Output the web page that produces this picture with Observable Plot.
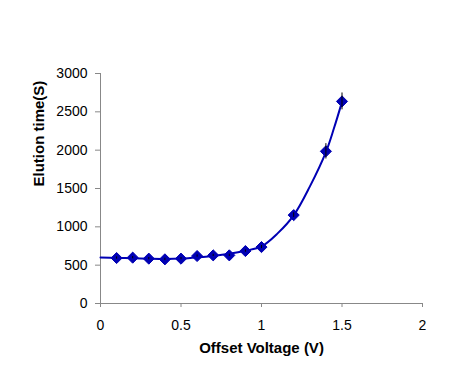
<!DOCTYPE html>
<html>
<head>
<meta charset="utf-8">
<script src="https://cdn.jsdelivr.net/npm/d3@7"></script>
<script src="https://cdn.jsdelivr.net/npm/@observablehq/plot@0.6"></script>
<style>
  html, body { margin: 0; padding: 0; background: #fff; }
</style>
</head>
<body>
<div id="chart"></div>
<script>
// Measured points
const voltage = [0.1, 0.2, 0.3, 0.4, 0.5, 0.6, 0.7, 0.8, 0.9, 1.0, 1.2, 1.4, 1.5];
const elution = [593, 598, 585, 576, 585, 619, 628, 628, 684, 736, 1153, 1985, 2636];
const errors  = [15, 15, 15, 15, 15, 15, 15, 15, 15, 20, 30, 100, 110];

// Fitted trend curve
const fitX = [0, 0.1, 0.2, 0.3, 0.4, 0.5, 0.6, 0.7, 0.8, 0.9, 1.0, 1.1, 1.2, 1.3, 1.4, 1.45, 1.5];
const fitY = [600, 595, 590, 585, 582, 586, 600, 620, 648, 688, 745, 915, 1150, 1525, 1975, 2285, 2630];

const xTicks = [0, 0.5, 1, 1.5, 2];
const yTicks = [0, 500, 1000, 1500, 2000, 2500, 3000];

const points = voltage.map((v, i) => ({x: v, y: elution[i], e: errors[i]}));
const fit = fitX.map((v, i) => ({x: v, y: fitY[i]}));

const blue = "#0000b4";
const axisGray = "#888888";

const chart = Plot.plot({
  width: 474,
  height: 372,
  marginLeft: 100,
  marginRight: 52,
  marginTop: 73,
  marginBottom: 69,
  style: {fontFamily: "'Liberation Sans', Arial, sans-serif", fontSize: "14px", color: "#000", background: "#fff"},
  x: {domain: [0, 2]},
  y: {domain: [0, 3000]},
  marks: [
    Plot.axisX({ticks: xTicks, tickSize: 4, tickPadding: 13, stroke: axisGray, fill: "#000", fontSize: 14,
      tickFormat: d => String(d), label: null}),
    Plot.axisY({ticks: yTicks, tickSize: 5, tickPadding: 8, stroke: axisGray, fill: "#000", fontSize: 14,
      tickFormat: d => String(d), label: null}),
    Plot.ruleX([0], {y1: 0, y2: 3000, stroke: axisGray}),
    Plot.ruleY([0], {x1: 0, x2: 2, stroke: axisGray}),
    Plot.line(fit, {x: "x", y: "y", curve: "catmull-rom", stroke: blue, strokeWidth: 2}),
    Plot.dot(points, {x: "x", y: "y", symbol: "diamond2", r: 5, fill: blue, stroke: blue, strokeWidth: 1}),
    Plot.ruleX(points, {x: "x", y1: d => d.y - d.e, y2: d => d.y + d.e, stroke: "#000", strokeWidth: 1}),
    Plot.text(["Offset Voltage (V)"], {frameAnchor: "bottom", dy: 49, fontWeight: "bold", fontSize: 15, fill: "#000"}),
    Plot.text(["Elution time(S)"], {frameAnchor: "left", dx: -61, dy: -2, rotate: -90, fontWeight: "bold", fontSize: 15, fill: "#000"})
  ]
});
document.getElementById("chart").appendChild(chart);
</script>
</body>
</html>
